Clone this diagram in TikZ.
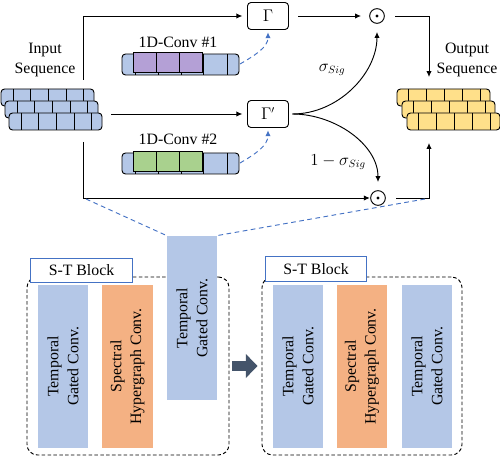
\documentclass[tikz,border=0pt]{standalone}
\usepackage{amsmath,amssymb}
\usepackage{fontspec}
\setmainfont{Liberation Serif}
\usepackage{tikz}
\usetikzlibrary{arrows.meta}

\definecolor{blueF}{HTML}{B4C7E7}
\definecolor{orangeF}{HTML}{F4B183}
\definecolor{purpleF}{HTML}{B4A0D6}
\definecolor{greenF}{HTML}{A9D18E}
\definecolor{yellowF}{HTML}{FFE08A}
\definecolor{dashBlue}{HTML}{4472C4}
\definecolor{arrowDark}{HTML}{44546A}

\begin{document}
\begin{tikzpicture}[x=0.03cm, y=-0.03cm, line width=0.8pt,
	every node/.style={font=\fontsize{13.5}{17}\selectfont},
	arr/.style={-{Latex[length=5pt,width=4.5pt]}},
	gate/.style={draw, rounded corners=3pt, minimum width=1.23cm, minimum height=0.81cm, inner sep=0},
	prod/.style={draw, circle, minimum size=0.44cm, inner sep=0,
		path picture={\fill (path picture bounding box.center) circle (1.3pt);}},
	cell/.style={draw, rounded corners=3pt},
	vbox/.style={rotate=90, minimum width=4.89cm, minimum height=1.5cm, inner sep=0, align=center},
	stblock/.style={draw, rounded corners=9pt, dash pattern=on 3pt off 2pt, minimum height=5.34cm},
	stlabel/.style={draw=dashBlue, fill=white, minimum width=3.05cm, minimum height=0.74cm, inner sep=0},
	zoomline/.style={dashBlue, dash pattern=on 4pt off 3pt},
	convarr/.style={dashBlue, dash pattern=on 4pt off 3pt, -{Latex[length=5pt,width=4.5pt]}}]
\useasboundingbox (0,0) rectangle (500,457);

% input and output sequences
\foreach \r in {0,1,2} {
	\draw[cell, fill=blueF] (1+4*\r, 89+12*\r) rectangle ++(93,17);
	\foreach \d in {12,29.5,47,65,82.5}
		\draw (1+4*\r+\d, 89+12*\r) -- ++(0,17);
	\draw[cell, fill=yellowF] (397+5*\r, 89+12*\r) rectangle ++(93,17);
	\foreach \d in {11,29.5,47.5,65,83}
		\draw (397+5*\r+\d, 89+12*\r) -- ++(0,17);
}
\node[align=center] (inlab) at (45,60) {Input\\Sequence};
\node[align=center] (outlab) at (467,60) {Output\\Sequence};

% 1D convolutions
\node (conv1) at (178,42) {1D-Conv \#1};
\node (conv2) at (178,139) {1D-Conv \#2};
\draw[cell, fill=blueF] (122,54) rectangle (239,75);
\foreach \d in {135,158,181,203,227} \draw (\d,54) -- (\d,75);
\draw[fill=purpleF] (133,52) rectangle (202,72);
\foreach \d in {156,179} \draw (\d,52) -- (\d,72);
\draw[cell, fill=blueF] (122,153) rectangle (239,174);
\foreach \d in {135,158,181,203,227} \draw (\d,153) -- (\d,174);
\draw[fill=greenF] (133,151) rectangle (202,171);
\foreach \d in {156,179} \draw (\d,151) -- (\d,171);

\node[gate] (G) at (268,16) {$\Gamma$};
\node[gate] (Gp) at (268,114) {$\Gamma'$};
\node[prod] (P1) at (377,16) {};
\node[prod] (P2) at (378,198) {};
\node (sig) at (332,70) {$\sigma_{Sig}$};
\node (sigc) at (338,162) {$1-\sigma_{Sig}$};

\coordinate (inTop) at (83,80);
\coordinate (inMid) at (111,114);
\coordinate (inBot) at (83,142);
\coordinate (outTop) at (429,77);
\coordinate (outBot) at (429,143);
\coordinate (c1) at (240,64);
\coordinate (c2) at (240,163);

\draw[arr, shorten >=4pt] (inTop) |- (G.west);
\draw[arr, shorten >=4pt] (inMid) -- (Gp.west);
\draw[arr, shorten >=7pt] (inBot) |- (P2.center);
\draw[arr, shorten <=8pt, shorten >=7pt] (G) -- (P1);
\draw[arr, shorten <=3pt, shorten >=7pt] (Gp.east) to[out=0, in=-90] (P1.south);
\draw[arr, shorten <=3pt, shorten >=7pt] (Gp.east) to[out=0, in=90] (P2.north);
\draw[arr, shorten <=9pt] (P1.east) -| (outTop);
\draw[arr, shorten <=9pt] (P2.east) -| (outBot);
\draw[convarr, shorten >=2pt] (c1) to[out=30, in=-90] (G.south);
\draw[convarr, shorten >=2pt] (c2) to[out=30, in=-90] (Gp.south);

% S-T blocks
\node[stblock, minimum width=6.06cm] (st1) at (128,366) {};
\node[stblock, minimum width=6.0cm] (st2) at (362,366) {};
\node[stlabel] (lab1) at (81.5,270.5) {S-T Block};
\node[stlabel] (lab2) at (316,269) {S-T Block};
\node[vbox, fill=blueF] (t1) at (63,366.5) {Temporal\\Gated Conv.};
\node[vbox, fill=orangeF] (s1) at (127.5,366.5) {Spectral\\Hypergraph Conv.};
\node[vbox, fill=blueF, minimum width=4.92cm] (tall) at (192,318) {Temporal\\Gated Conv.};
\node[vbox, fill=blueF] (t2) at (298,366.5) {Temporal\\Gated Conv.};
\node[vbox, fill=orangeF] (s2) at (362,366.5) {Spectral\\Hypergraph Conv.};
\node[vbox, fill=blueF] (t3) at (427,366.5) {Temporal\\Gated Conv.};

\coordinate (zl) at (86,199);
\coordinate (zr) at (425,199);
\draw[zoomline] (zl) -- (tall.north east);
\draw[zoomline] (zr) -- (tall.south east);
\draw[arrowDark, line width=8.5pt, -{Triangle[length=10pt,width=20pt]}]
	([xshift=0.09cm]st1.east) -- ([xshift=-0.12cm]st2.west);
\end{tikzpicture}
\end{document}
